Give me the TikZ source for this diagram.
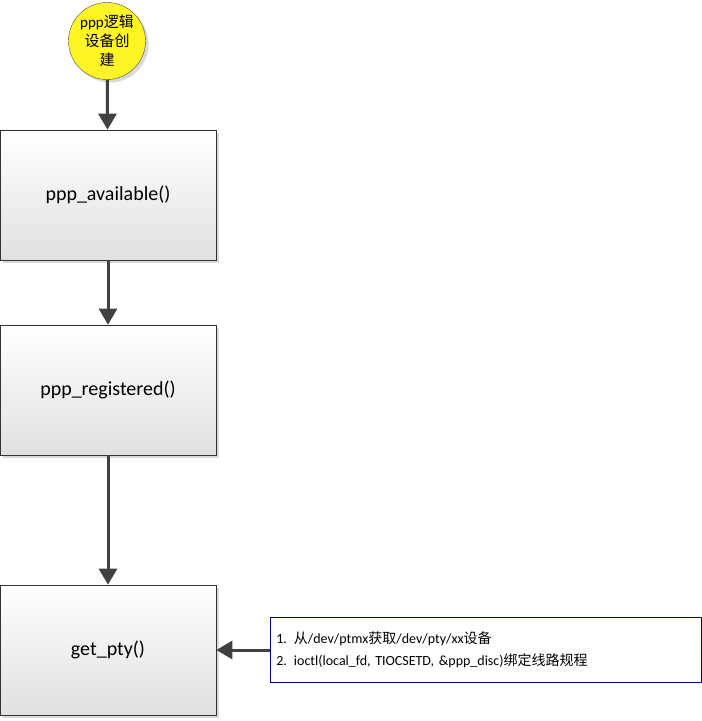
\documentclass[tikz,border=0pt]{standalone}
\usepackage{fontspec}
\setmainfont{Carlito}
\newfontfamily\cjk{Noto Sans CJK SC}
\usetikzlibrary{arrows.meta,shadows}
\begin{document}
\begin{tikzpicture}[x=1pt,y=-1pt,
  box/.style={draw=black!80,line width=0.7pt,minimum width=216pt,minimum height=130pt,inner sep=0,
    top color=white,bottom color=black!12,font=\fontsize{20}{24}\selectfont,
    drop shadow={shadow xshift=3pt,shadow yshift=-3pt,fill=black!25,opacity=0.6}},
  arr/.style={draw=black!75,line width=3pt,-{Triangle[length=16pt,width=18pt]}}]
\useasboundingbox (0,0) rectangle (702,721);
\node[circle,draw=black!70,fill=yellow!85!white,minimum size=77pt,inner sep=0,align=center,
  font=\fontsize{15}{19}\selectfont,drop shadow={shadow xshift=3pt,shadow yshift=-3pt,fill=black!25,opacity=0.6}]
  (c) at (107,41) {ppp{\cjk 逻辑}\\{\cjk 设备创}\\{\cjk 建}};
\node[box] (a) at (108,195) {ppp\_available()};
\node[box] (b) at (108,390) {ppp\_registered()};
\node[box] (g) at (108,650) {get\_pty()};
\node[draw=blue!50!black,line width=0.7pt,minimum width=431pt,minimum height=65pt,inner sep=6pt,
  align=left,anchor=west,text width=419pt,font=\fontsize{14}{22}\selectfont] (n) at (270,650)
  {1. {\cjk 从}/dev/ptmx{\cjk 获取}/dev/pty/xx{\cjk 设备}\\2. ioctl(local\_fd, TIOCSETD, \&ppp\_disc){\cjk 绑定线路规程}};
\draw[arr] (c) -- (a);
\draw[arr] (a) -- (b);
\draw[arr] (b) -- (g);
\draw[arr] (n) -- (g);
\end{tikzpicture}
\end{document}
